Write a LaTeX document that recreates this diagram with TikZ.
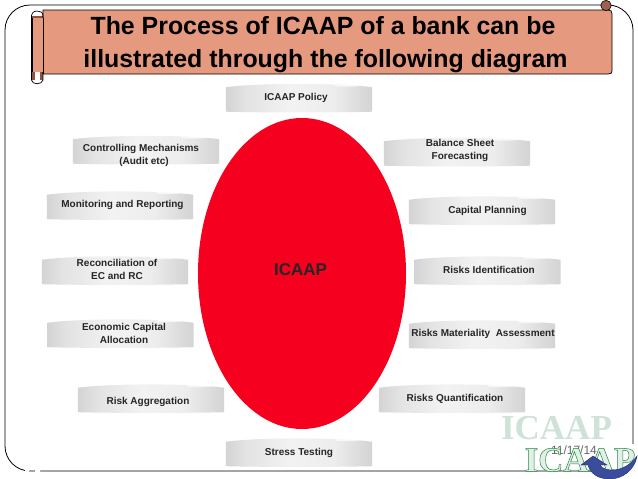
\documentclass[tikz,border=0pt]{standalone}
\usepackage{fontspec}
\setmainfont{Liberation Sans}
\newfontfamily\logoserif{Liberation Serif}
\definecolor{banner}{HTML}{E59A80}
\definecolor{scrolldark}{HTML}{8E5340}
\definecolor{ballred}{HTML}{F5001E}
\definecolor{palegreen}{HTML}{CFE2D8}
\definecolor{logogreen}{HTML}{1F8A3C}
\definecolor{logoblue}{HTML}{3A4C9E}
\pgfdeclarehorizontalshading{pillshade}{100bp}{
  color(0bp)=(black!17); color(25bp)=(black!17); color(32bp)=(black!11);
  color(47bp)=(black!5); color(62bp)=(black!7); color(72bp)=(black!15); color(75bp)=(black!17); color(100bp)=(black!17)}
\newcommand{\pillbody}[1]{%
  \shade[shading=pillshade]
    ([yshift=-5pt]#1.north west)
    .. controls ([xshift=30pt,yshift=-0.5pt]#1.north west) and ([xshift=-30pt,yshift=-0.5pt]#1.north east)
    .. ([yshift=-5pt]#1.north east)
    -- (#1.south east)
    .. controls ([xshift=-40pt,yshift=-1pt]#1.south east) and ([xshift=40pt,yshift=-1pt]#1.south west)
    .. (#1.south west) -- cycle;
  \fill[white,opacity=0.7] ([xshift=48pt,yshift=-3.2pt]#1.north) ellipse [x radius=13pt,y radius=1.2pt];
}
\tikzset{
  pill/.style={minimum width=146pt,minimum height=29pt,inner sep=0pt},
  pilltext/.style={inner sep=0pt,align=center,text=black!85,
    font=\fontsize{10}{13}\selectfont\bfseries},
  titletext/.style={inner sep=0pt,font=\fontsize{24.9}{28}\selectfont\bfseries,text=black},
}
\begin{document}
\begin{tikzpicture}[x=1pt,y=-1pt]
\useasboundingbox (0,0) rectangle (638,479);
\fill[white] (0,0) rectangle (638,479);
% frame
\draw[black,line width=0.8pt,rounded corners=25pt] (5,5) rectangle (633,471);
\fill[white] (25,469) rectangle (29,473) (35,469) rectangle (40,473);
\fill[white] (600,444) rectangle (638,479);
% banner
\fill[scrolldark] (31,16) rectangle (43,80);
\fill[white] (35,72) rectangle (40,83);
\draw[black,line width=0.7pt,fill=banner] (43,10) -- (608,10) .. controls (611,10) and (612,11) .. (612,14) -- (612,71) .. controls (612,73) and (611,74) .. (608,74) -- (43,74) -- cycle;
\draw[black,line width=0.7pt] (43,16) .. controls (43,12) and (40,11) .. (37,11) .. controls (33,11) and (31,14) .. (31.5,18) -- (31.5,80) .. controls (32,85) and (42,85) .. (43,80) -- (43,16);
\fill[banner] (32,18) rectangle (42.6,72);
\draw[black,line width=0.7pt] (32,18) -- (32,72) (43,18) -- (43,74);
\draw[black,line width=0.6pt,fill=scrolldark!80!banner] (606,5.5) circle (5.2);
% title
\node[titletext] (t1) at (323,25.5) {The Process of ICAAP of a bank can be};
\node[titletext] (t2) at (325.5,61) {illustrated through the following diagram};
% ellipse
\fill[ballred] (302,273.5) ellipse [x radius=104,y radius=155.5];
\node[inner sep=0pt,font=\fontsize{17}{19}\selectfont\bfseries,text=black!85] (center) at (300.5,270) {ICAAP};
% pills
\node[pill] (p1) at (299,97) {};
\node[pill] (p2) at (146,149) {};
\node[pill] (p3) at (457,151) {};
\node[pill] (p4) at (120,204.5) {};
\node[pill] (p5) at (482,209.5) {};
\node[pill] (p6) at (115,269.5) {};
\node[pill] (p7) at (487.5,269.5) {};
\node[pill] (p8) at (120.5,332.5) {};
\node[pill] (p9) at (482,333.5) {};
\node[pill] (p10) at (151,397.5) {};
\node[pill] (p11) at (452,397.5) {};
\node[pill] (p12) at (299,451.5) {};
\foreach \p in {p1,p2,p3,p4,p5,p6,p7,p8,p9,p10,p11,p12} {\pillbody{\p}}
\node[pilltext] (n1) at (296,98) {ICAAP Policy};
\node[pilltext] (n2) at (141,155.5) {Controlling Mechanisms\\\hspace*{6pt}(Audit etc)};
\node[pilltext] (n3) at (460,150.5) {Balance Sheet\\Forecasting};
\node[pilltext] (n4) at (122.5,205) {Monitoring and Reporting};
\node[pilltext] (n5) at (487.5,211) {Capital Planning};
\node[pilltext] (n6) at (117,269) {Reconciliation of\\EC and RC};
\node[pilltext] (n7) at (489,270) {Risks Identification};
\node[pilltext] (n8) at (124,333.5) {Economic Capital\\Allocation};
\node[pilltext] (n9) at (483,334) {Risks Materiality\ \ Assessment};
\node[pilltext] (n10) at (148,402) {Risk Aggregation};
\node[pilltext] (n11) at (455,399) {Risks Quantification};
\node[pilltext] (n12) at (299,453) {Stress Testing};
% logo
\node[inner sep=0pt,font=\logoserif\fontsize{35}{35}\selectfont\bfseries,text=palegreen] (l1) at (556.5,428) {ICAAP};
\node[inner sep=0pt,font=\fontsize{12}{14}\selectfont,text=black!60] (date) at (574,450) {11/17/14};
\node[inner sep=0pt,font=\logoserif\fontsize{35}{35}\selectfont\bfseries,text=palegreen!60] (l2) at (580,460) {\special{pdf:code 2 Tr 0.5 w 0.12 0.54 0.24 RG}ICAAP\special{pdf:code 0 Tr}};
\fill[logoblue,draw=logoblue!60!black,line width=0.4pt] (637,456) .. controls (635,470) and (622,479) .. (610,479) .. controls (596,479) and (590,472) .. (588,465) -- (581,465) -- (593,456) -- (607,465) -- (600,465) .. controls (604,472) and (624,474) .. (637,456) -- cycle;
\end{tikzpicture}
\end{document}
